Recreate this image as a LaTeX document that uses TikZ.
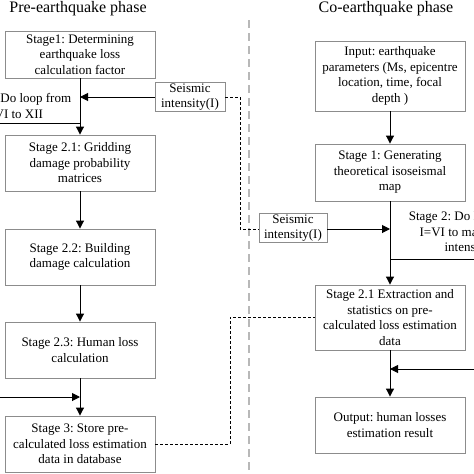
\documentclass[tikz,border=0pt]{standalone}
\usepackage{fontspec}
\setmainfont{Liberation Serif}
\usetikzlibrary{arrows.meta}
\frenchspacing
\begin{document}
\begin{tikzpicture}[x=1pt,y=-1pt,
  box/.style={draw=black!45,line width=0.9pt,minimum width=150pt,align=center,inner sep=1pt,font=\fontsize{13}{15.5}\selectfont},
  sbox/.style={draw=black!45,line width=0.9pt,align=center,inner sep=1pt,font=\fontsize{13}{15}\selectfont},
  arr/.style={line width=1pt,-{Triangle[length=8pt,width=8pt]}},
  ln/.style={line width=1pt},
  dsh/.style={line width=0.9pt,dash pattern=on 3pt off 2pt},
  lbl/.style={align=center,font=\fontsize{13}{15.5}\selectfont,inner sep=0pt},
  ttl/.style={font=\fontsize{16}{18}\selectfont,inner sep=0pt}]
\useasboundingbox (0,0) rectangle (474,474);
\clip (0,0) rectangle (474,474);
\fill[white] (0,0) rectangle (474,474);
% separator
\draw[black!28,line width=1.8pt,dash pattern=on 8pt off 5pt] (249,20) -- (249,474);
% titles
\node[ttl] (t1) at (78,9) {Pre-earthquake phase};
\node[ttl] (t2) at (386,9) {Co-earthquake phase};
% left column
\node[box,minimum height=47pt] (s1) at (80,54.5) {Stage1: Determining\\earthquake loss\\calculation factor};
\node[box,minimum height=56pt] (s21) at (80,163) {Stage 2.1: Gridding\\damage probability\\matrices};
\node[box,minimum height=56pt] (s22) at (80,257) {Stage 2.2: Building\\damage calculation};
\node[box,minimum height=56pt] (s23) at (80,350) {Stage 2.3: Human loss\\calculation};
\node[box,minimum height=56pt] (s3) at (80,444) {Stage 3: Store pre-\\calculated loss estimation\\data in database};
\node[sbox,minimum width=70pt,minimum height=28pt] (sL) at (190,97) {Seismic\\intensity(I)};
\node[lbl] (lL) at (13,106) {Stage 2: Do loop from\\I=VI to XII};
% right column
\node[box,minimum height=70pt] (inp) at (390,76) {Input: earthquake\\parameters (Ms, epicentre\\location, time, focal\\depth )};
\node[box,minimum height=57pt] (c1) at (390,172.5) {Stage 1: Generating\\theoretical isoseismal\\map};
\node[box,minimum height=65pt] (c21) at (390,317.5) {Stage 2.1 Extraction and\\statistics on pre-\\calculated loss estimation\\data};
\node[box,minimum height=56pt] (out) at (390,425) {Output: human losses\\estimation result};
\node[sbox,minimum width=68pt,minimum height=27pt] (sR) at (293,228) {Seismic\\intensity(I)};
\node[lbl] (lR) at (467,233) {Stage 2: Do loop from\\I=VI to maximum\\intensity};
% coordinates
\coordinate (jL) at (80,97);
\coordinate (loopL0) at (0,123);
\coordinate (loopL1) at (80,123);
\coordinate (inL0) at (0,397);
\coordinate (inL1) at (80,397);
\coordinate (jR) at (390,229);
\coordinate (loopR0) at (390,259);
\coordinate (loopR1) at (474,259);
\coordinate (inR0) at (474,369);
\coordinate (inR1) at (390,369);
\coordinate (d1) at (240,97);
\coordinate (d2) at (240,229);
\coordinate (d3) at (230,444);
\coordinate (d4) at (230,317);
% left connectors
\draw[arr] (s1) -- (s21);
\draw[arr] (sL.west) -- (jL);
\draw[ln] (loopL0) -- (loopL1);
\draw[arr] (s21) -- (s22);
\draw[arr] (s22) -- (s23);
\draw[arr] (s23) -- (s3);
\draw[arr] (inL0) -- (inL1);
% right connectors
\draw[arr] (inp) -- (c1);
\draw[arr] (c1) -- (c21);
\draw[arr] (sR.east |- jR) -- (jR);
\draw[ln] (loopR0) -- (loopR1);
\draw[arr] (inR0) -- (inR1);
\draw[arr] (c21) -- (out);
% dashed
\draw[dsh] (sL.east) -- (d1) -- (d2) -- (sR.west |- d2);
\draw[dsh] (s3.east) -- (d3) -- (d4) -- (c21.west |- d4);
\end{tikzpicture}
\end{document}
